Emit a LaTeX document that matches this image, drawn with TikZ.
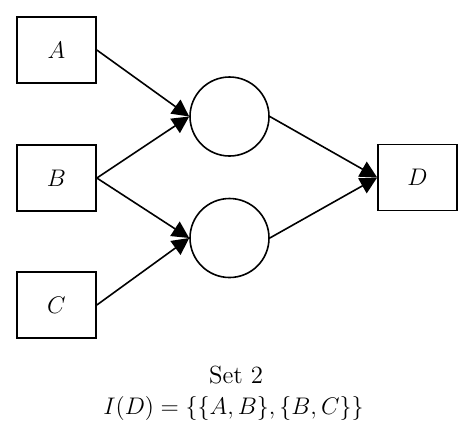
\documentclass[tikz,border=0pt]{standalone}
\usepackage{tikz}
\usetikzlibrary{arrows.meta}
\tikzstyle{entrada}=[rectangle, draw=black, line width=0.8pt, minimum width=39.5pt, minimum height=33pt, inner sep=0pt, font=\fontsize{12.4}{15}\selectfont]
\tikzstyle{porta}=[circle, draw=black, line width=0.8pt, minimum size=39.5pt, inner sep=0pt]
\tikzstyle{liga}=[draw=black, line width=0.8pt, -{Triangle[length=8.5pt, width=8.5pt]}]

\begin{document}
\begin{tikzpicture}[x=0.5pt, y=-0.5pt]
					\useasboundingbox (0,0) rectangle (474,440);
					\node[entrada] (vA) at (56.5,50) {$A$};
					\node[entrada] (vB) at (56.5,178) {$B$};
					\node[entrada] (vC) at (56.5,305) {$C$};
					\node[entrada] (vD) at (417.5,177.5) {$D$};
					\node[porta] (p1) at (229.5,116.5) {};
					\node[porta] (p2) at (229.5,238) {};
					\path[liga] (vA.east) -- (p1.west);
					\path[liga] (vB.east) -- (p1.west);
					\path[liga] (vB.east) -- (p2.west);
					\path[liga] (vC.east) -- (p2.west);
					\path[liga] (p1.east) -- (vD.west);
					\path[liga] (p2.east) -- (vD.west);
					\node[font=\fontsize{12.4}{15}\selectfont] (tit) at (236,375) {Set 2};
					\node[font=\fontsize{12.4}{15}\selectfont] (form) at (233.5,408) {$I(D) = \{\{A, B\}, \{B, C\}\}$};
				\end{tikzpicture}
\end{document}
